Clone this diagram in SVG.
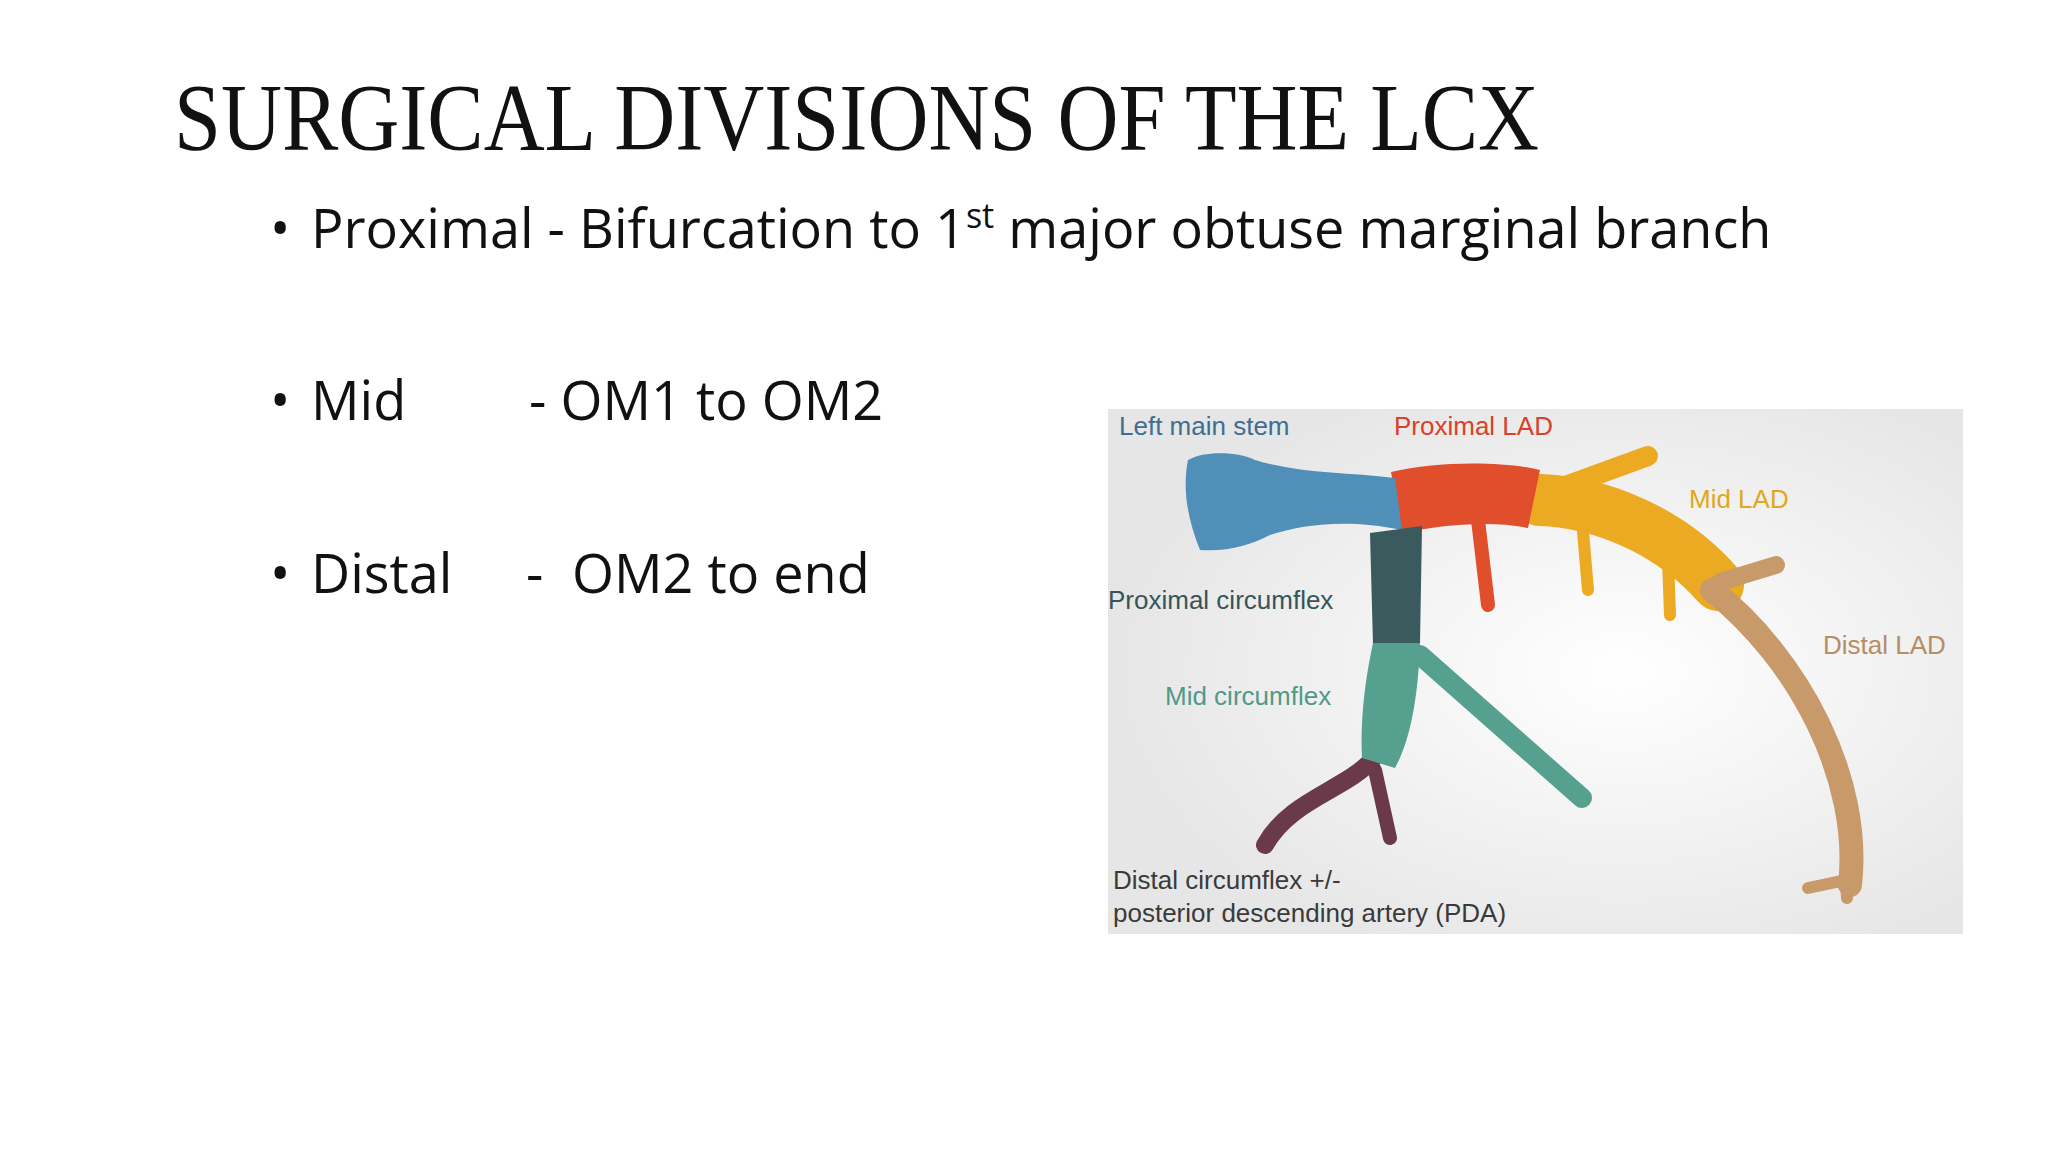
<svg xmlns="http://www.w3.org/2000/svg" width="2048" height="1152" viewBox="0 0 2048 1152">
<defs>
<radialGradient id="bg" cx="0.6" cy="0.5" r="0.6"><stop offset="0" stop-color="#ffffff"/><stop offset="1" stop-color="#e6e6e6"/></radialGradient>
<style>
.t{font-family:"Liberation Sans",Arial,sans-serif;font-size:26px}
.b{font-family:"Open Sans","Liberation Sans",sans-serif;font-size:54px;fill:#111}
.v{fill:none;stroke-linecap:round;stroke-linejoin:round}
</style>
</defs>
<rect width="2048" height="1152" fill="#fff"/>
<text x="174" y="150" font-family="Liberation Serif,serif" font-size="96" fill="#111" textLength="1365" lengthAdjust="spacingAndGlyphs">SURGICAL DIVISIONS OF THE LCX</text>
<g id="bullets">
<text class="b" x="270" y="248">•</text>
<text class="b" x="311" y="248">Proximal - Bifurcation to 1<tspan font-size="34" dy="-20">st</tspan><tspan dy="20"> major obtuse marginal branch</tspan></text>
<text class="b" x="270" y="420">•</text>
<text class="b" x="311" y="420">Mid</text>
<text class="b" x="529" y="420">- OM1 to OM2</text>
<text class="b" x="270" y="593">•</text>
<text class="b" x="311" y="593">Distal</text>
<text class="b" x="526" y="593">-</text>
<text class="b" x="572" y="593">OM2 to end</text>
</g>
<g id="figure">
<rect x="1108" y="409" width="855" height="525" fill="url(#bg)"/>
<g id="connectors">
<path class="v" d="M1560,488 L1648,456" stroke="#ebaa22" stroke-width="20"/>
<path class="v" d="M1582,520 L1588,590 M1668,560 L1670,615" stroke="#ebaa22" stroke-width="12"/>
<path class="v" d="M1540,500 C1600,502 1670,530 1718,585" stroke="#ebaa22" stroke-width="52" stroke-linecap="butt"/>
<path class="v" d="M1720,582 L1776,565" stroke="#c89a6a" stroke-width="18"/>
<path class="v" d="M1712,590 C1800,660 1862,780 1850,885" stroke="#c89a6a" stroke-width="24"/>
<path class="v" d="M1846,880 L1808,888 M1846,880 L1847,898" stroke="#c89a6a" stroke-width="12"/>
<path class="v" d="M1478,520 L1488,605" stroke="#e04e2c" stroke-width="14"/>
<path d="M1391,472 C1430,462 1500,460 1540,470 L1528,528 C1490,520 1440,525 1402,533 Z" fill="#e04e2c"/>
<path d="M1188,460 C1205,450 1240,452 1255,460 C1300,474 1345,472 1395,478 L1402,530 C1345,518 1300,525 1270,535 C1250,545 1228,552 1200,550 C1188,520 1182,490 1188,460 Z" fill="#4f8fb8"/>
<path class="v" d="M1420,655 L1582,798" stroke="#55a08f" stroke-width="20"/>
<path class="v" d="M1372,760 C1345,790 1290,800 1265,845" stroke="#6b3a4a" stroke-width="18"/>
<path class="v" d="M1375,770 L1390,838" stroke="#6b3a4a" stroke-width="14"/>
<path d="M1370,533 L1422,526 L1420,643 L1373,645 Z" fill="#3a5a5e"/>
<path d="M1373,643 L1420,643 C1418,700 1410,740 1395,768 L1362,758 C1360,720 1365,680 1373,643 Z" fill="#55a08f"/>
</g>
<text class="t" x="1119" y="435" fill="#3e6e91">Left main stem</text>
<text class="t" x="1394" y="435" fill="#d9412b">Proximal LAD</text>
<text class="t" x="1689" y="508" fill="#e0a820">Mid LAD</text>
<text class="t" x="1108" y="609" fill="#36555a">Proximal circumflex</text>
<text class="t" x="1165" y="705" fill="#4f9a8a">Mid circumflex</text>
<text class="t" x="1823" y="654" fill="#b58e65">Distal LAD</text>
<text class="t" x="1113" y="889" fill="#3a3a3a">Distal circumflex +/-</text>
<text class="t" x="1113" y="922" fill="#3a3a3a">posterior descending artery (PDA)</text>
</g>
</svg>
